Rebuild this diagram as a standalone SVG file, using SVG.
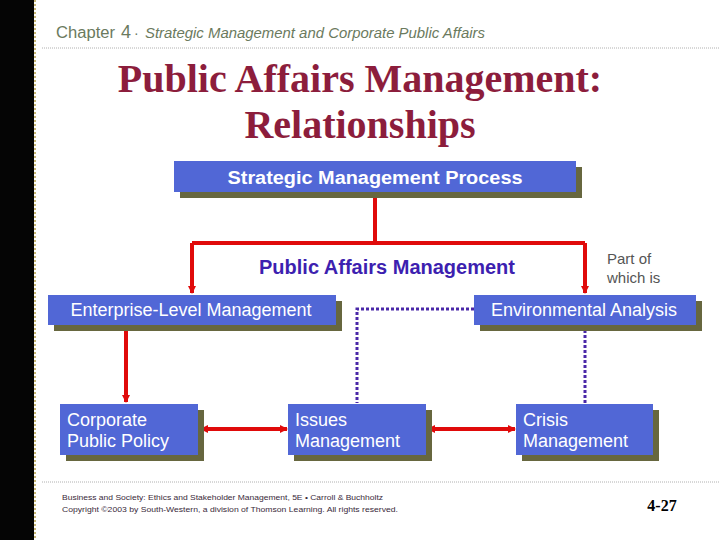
<svg xmlns="http://www.w3.org/2000/svg" width="720" height="540" viewBox="0 0 720 540">
<defs>
<style>
.box{fill:#5167d6}
.shd{fill:#67673f}
.bt{fill:#ffffff;font-family:"Liberation Sans",Arial,sans-serif;font-size:18px}
.red{stroke:#e00a0a;stroke-width:4;fill:none}
.dot{stroke:#4a28a8;stroke-width:3;fill:none;stroke-dasharray:3,2}
.rule{stroke:#b0b0b0;stroke-width:1;stroke-dasharray:1,1;fill:none}
.hd{font-family:"Liberation Sans",Arial,sans-serif;fill:#6b7a5e}
</style>
<marker id="ah" markerWidth="8" markerHeight="8" refX="7" refY="4" orient="auto" markerUnits="userSpaceOnUse" viewBox="0 0 8 8">
<path d="M0,0 L8,4 L0,8 Z" fill="#e00a0a"/>
</marker>
<marker id="ahs" markerWidth="8" markerHeight="8" refX="1" refY="4" orient="auto" markerUnits="userSpaceOnUse" viewBox="0 0 8 8">
<path d="M8,0 L0,4 L8,8 Z" fill="#e00a0a"/>
</marker>
</defs>
<rect x="0" y="0" width="720" height="540" fill="#ffffff"/>
<rect x="0" y="0" width="34" height="540" fill="#050505"/>
<line x1="35" y1="0" x2="35" y2="540" stroke="#c8b878" stroke-width="2" stroke-dasharray="2,2"/>

<g id="header">
<text class="hd" x="56" y="38" font-size="16" textLength="59" lengthAdjust="spacingAndGlyphs">Chapter</text>
<text class="hd" x="121" y="38" font-size="18">4</text>
<text class="hd" x="134" y="38" font-size="14">·</text>
<text class="hd" x="145" y="38" font-size="14.5" font-style="italic" textLength="340" lengthAdjust="spacingAndGlyphs">Strategic Management and Corporate Public Affairs</text>
<line class="rule" x1="42" y1="48" x2="720" y2="48"/>
</g>

<g id="title" font-family="Liberation Serif,'Times New Roman',serif" font-weight="bold" font-size="40" fill="#8c1d3c" text-anchor="middle">
<text x="360" y="92">Public Affairs Management:</text>
<text x="360" y="138">Relationships</text>
</g>

<g id="connectors">
<path class="red" d="M375,192 V243 M192,243 H585"/>
<path class="red" d="M192,243 V293" marker-end="url(#ah)"/>
<path class="red" d="M585,243 V293" marker-end="url(#ah)"/>
<path class="red" d="M126,331 V402" marker-end="url(#ah)"/>
<path class="red" d="M201,429 H287" marker-start="url(#ahs)" marker-end="url(#ah)"/>
<path class="red" d="M428,429 H515" marker-start="url(#ahs)" marker-end="url(#ah)"/>
<path class="dot" d="M474,309 H357 V403"/>
<path class="dot" d="M585,325 V403"/>
</g>

<g id="strategic">
<rect class="shd" x="180" y="167" width="402" height="31"/>
<rect class="box" x="174" y="161" width="402" height="31"/>
<text class="bt" x="375" y="184" text-anchor="middle" font-weight="bold" font-size="20" textLength="295" lengthAdjust="spacingAndGlyphs">Strategic Management Process</text>
</g>

<g id="pam">
<text x="387" y="274" text-anchor="middle" font-family="Liberation Sans,Arial,sans-serif" font-weight="bold" font-size="20" fill="#3d1fb0">Public Affairs Management</text>
</g>

<g id="partof" font-family="Liberation Sans,Arial,sans-serif" font-size="15" fill="#555555">
<text x="607" y="264">Part of</text>
<text x="607" y="283">which is</text>
</g>

<g id="enterprise">
<rect class="shd" x="54" y="301" width="288" height="30"/>
<rect class="box" x="48" y="295" width="288" height="30"/>
<text class="bt" x="191" y="316" text-anchor="middle">Enterprise-Level Management</text>
</g>

<g id="environmental">
<rect class="shd" x="480" y="301" width="222" height="30"/>
<rect class="box" x="474" y="295" width="222" height="30"/>
<text class="bt" x="584" y="316" text-anchor="middle">Environmental Analysis</text>
</g>

<g id="corporate">
<rect class="shd" x="66" y="410" width="138" height="51"/>
<rect class="box" x="60" y="404" width="138" height="51"/>
<text class="bt" x="67" y="426">Corporate</text>
<text class="bt" x="67" y="447">Public Policy</text>
</g>

<g id="issues">
<rect class="shd" x="294" y="410" width="138" height="51"/>
<rect class="box" x="288" y="404" width="138" height="51"/>
<text class="bt" x="295" y="426">Issues</text>
<text class="bt" x="295" y="447">Management</text>
</g>

<g id="crisis">
<rect class="shd" x="522" y="410" width="137" height="51"/>
<rect class="box" x="516" y="404" width="137" height="51"/>
<text class="bt" x="523" y="426">Crisis</text>
<text class="bt" x="523" y="447">Management</text>
</g>

<g id="footer">
<line class="rule" x1="42" y1="482" x2="720" y2="482"/>
<text x="62" y="500" font-family="Liberation Sans,Arial,sans-serif" font-size="7.5" fill="#3a2a3a" textLength="321" lengthAdjust="spacingAndGlyphs">Business and Society: Ethics and Stakeholder Management, 5E • Carroll &amp; Buchholtz</text>
<text x="62" y="512" font-family="Liberation Sans,Arial,sans-serif" font-size="7.5" fill="#3a2a3a" textLength="336" lengthAdjust="spacingAndGlyphs">Copyright ©2003 by South-Western, a division of Thomson Learning.  All rights reserved.</text>
<text x="662" y="511" text-anchor="middle" font-family="Liberation Serif,'Times New Roman',serif" font-weight="bold" font-size="16" fill="#000000">4-27</text>
</g>
</svg>
